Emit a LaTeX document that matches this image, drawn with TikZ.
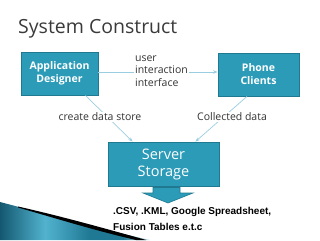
\documentclass[tikz,border=0pt]{standalone}
\usepackage{fontspec}
\setmainfont{Open Sans}
\newfontfamily\arialfont{Liberation Sans}
\usetikzlibrary{calc,arrows.meta}
\definecolor{boxfill}{HTML}{2B9BB8}
\definecolor{boxline}{HTML}{1F7A91}
\definecolor{linkc}{HTML}{9ACDE0}
\definecolor{titlec}{HTML}{3A3A3A}
\definecolor{labelc}{HTML}{333333}
\definecolor{swA}{HTML}{145870}
\definecolor{swB}{HTML}{52B3CF}
\definecolor{swC}{HTML}{1F7894}
\definecolor{swD}{HTML}{C5D9E0}
\pgfdeclarehorizontalshading{swoosh}{100bp}{color(0bp)=(swA); color(25bp)=(swA); color(40bp)=(swB); color(55bp)=(swC); color(66bp)=(swC); color(75bp)=(swD); color(100bp)=(swD)}
\tikzset{
  box/.style={draw=boxline, fill=boxfill, text=white, line width=0.8pt, inner sep=0pt, align=center},
  lbl/.style={text=labelc, fill=white, inner sep=1pt, font=\fontsize{10.5}{12.5}\selectfont},
  link/.style={draw=linkc, line width=0.7pt, -{Stealth[length=4.5pt,width=3.5pt]}}
}
\begin{document}
\begin{tikzpicture}[x=1pt,y=-1pt]
\useasboundingbox (0,0) rectangle (320,240);
% decorative swoosh
\shade[shading=swoosh] (0,202) .. controls (50,215) and (95,228) .. (150,240) -- (0,240) -- cycle;
\fill[black] (18,206.5) .. controls (60,216) and (100,227) .. (146,240) -- (136,240) .. controls (95,230.5) and (58,219) .. (18,207.5) -- cycle;
% title
\node[anchor=base west, inner sep=0, text=titlec, font=\fontsize{19.5}{24}\selectfont] (title) at (18,34) {System Construct};
% boxes
\node[box, minimum width=77, minimum height=43, font=\bfseries\fontsize{10.5}{13}\selectfont] (app) at (59.5,73.5) {Application\\Designer};
\node[box, minimum width=81, minimum height=43, font=\bfseries\fontsize{10.5}{13}\selectfont] (phone) at (258.5,74.5) {Phone\\Clients};
\node[box, minimum width=111, minimum height=44, font=\fontsize{14.5}{17}\selectfont] (srv) at (163.5,164) {Server\\Storage};
% connectors
\draw[link] (app.east |- 0,72) -- (phone.west |- 0,72);
\draw[link] ($(app.south east)+(-13,0)$) -- ($(srv.north west)+(25,0)$);
\draw[link] ($(phone.south)+(-11.5,0)$) -- ($(srv.north east)+(-24,0)$);
% labels
\node[lbl, align=left, fill=white] (uii) at (161.5,71) {user\\interaction\\interface};
\node[lbl] (cds) at (100,117) {create data store};
\node[lbl] (col) at (232,117) {Collected data};
% block arrow
\filldraw[fill=boxfill, draw=boxline, line width=0.6pt] (153,187.5) -- (180,187.5) -- (180,193) -- (193,193) -- (168,203) -- (143,193) -- (153,193) -- cycle;
% output text
\node[anchor=north west, inner sep=0pt, align=left, font=\arialfont\bfseries\fontsize{10}{15.5}\selectfont] (out) at (113,207.5) {.CSV, .KML, Google Spreadsheet,\\Fusion Tables e.t.c};
\end{tikzpicture}
\end{document}
